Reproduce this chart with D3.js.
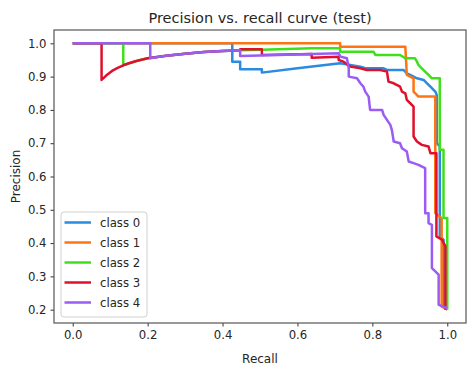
<!DOCTYPE html>
<html>
<head>
<meta charset="utf-8">
<script src="https://cdn.jsdelivr.net/npm/d3@7"></script>
<style>
  body { margin: 0; background: #fff; }
  text { font-family: "DejaVu Sans", sans-serif; fill: #262626; }
</style>
</head>
<body>
<svg id="chart" width="474" height="374"></svg>
<script>
var WIDTH = 474, HEIGHT = 374;
var MARGIN = {top: 30, right: 8, bottom: 51, left: 54};

var classNames = ["class 0", "class 1", "class 2", "class 3", "class 4"];
var classColors = ["#2a8be0", "#ff7410", "#3ee01a", "#e0102c", "#9a5cf4"];

var xTicks = [0.0, 0.2, 0.4, 0.6, 0.8, 1.0];
var yTicks = [0.2, 0.3, 0.4, 0.5, 0.6, 0.7, 0.8, 0.9, 1.0];

// [recall, precision] vertices
var class0 = [[0,1],[0.426,1],[0.426,0.945],[0.447,0.945],[0.447,0.922],[0.505,0.922],
  [0.505,0.912],[0.6,0.925],[0.714,0.94],[0.768,0.93],[0.781,0.925],[0.83,0.925],
  [0.839,0.92],[0.883,0.92],[0.892,0.91],[0.901,0.905],[0.919,0.895],[0.937,0.89],
  [0.946,0.88],[0.955,0.87],[0.968,0.855],[0.972,0.845],[0.972,0.7],[0.98,0.69],
  [0.98,0.42],[0.99,0.41],[0.99,0.21],[1.0,0.2]];
var class1 = [[0,1],[0.714,1],[0.714,0.99],[0.888,0.99],[0.892,0.905],[0.91,0.895],
  [0.91,0.855],[0.923,0.84],[0.968,0.84],[0.968,0.49],[0.985,0.475],[0.985,0.21],[1.0,0.2]];
var class2 = [[0,1],[0.135,1],[0.135,0.934],[0.17,0.947],[0.2,0.955],[0.25,0.963],
  [0.3,0.969],[0.35,0.974],[0.4,0.977],[0.447,0.979],[0.505,0.981],[0.638,0.985],
  [0.714,0.985],[0.714,0.975],[0.803,0.975],[0.808,0.965],[0.874,0.965],[0.888,0.955],
  [0.914,0.955],[0.919,0.945],[0.923,0.935],[0.932,0.925],[0.941,0.915],[0.95,0.905],
  [0.959,0.895],[0.98,0.895],[0.98,0.68],[0.99,0.68],[0.99,0.475],[1.0,0.475],[1.0,0.2]];
var class3 = [[0,1],[0.077,1],[0.077,0.89],[0.09,0.904],[0.105,0.917],[0.12,0.926],
  [0.135,0.934],[0.15,0.94],[0.17,0.947],[0.2,0.955],[0.25,0.963],[0.3,0.969],
  [0.35,0.974],[0.4,0.977],[0.447,0.979],[0.447,0.982],[0.505,0.982],[0.505,0.965],
  [0.638,0.968],[0.638,0.957],[0.71,0.96],[0.71,0.95],[0.723,0.945],[0.741,0.93],
  [0.768,0.925],[0.785,0.92],[0.821,0.92],[0.839,0.915],[0.843,0.885],[0.857,0.88],
  [0.874,0.87],[0.879,0.855],[0.888,0.85],[0.892,0.83],[0.901,0.82],[0.91,0.81],
  [0.91,0.72],[0.919,0.705],[0.932,0.695],[0.95,0.69],[0.955,0.67],[0.971,0.67],
  [0.971,0.42],[0.986,0.41],[0.995,0.39],[0.995,0.2]];
var class4 = [[0,1],[0.207,1],[0.207,0.955],[0.25,0.963],[0.3,0.969],[0.35,0.974],
  [0.4,0.977],[0.447,0.979],[0.447,0.962],[0.55,0.965],[0.638,0.968],[0.71,0.97],
  [0.715,0.96],[0.732,0.955],[0.737,0.925],[0.737,0.9],[0.759,0.895],[0.768,0.88],
  [0.776,0.87],[0.781,0.855],[0.79,0.84],[0.794,0.8],[0.826,0.8],[0.83,0.785],
  [0.839,0.77],[0.848,0.755],[0.852,0.74],[0.857,0.705],[0.874,0.7],[0.879,0.685],
  [0.892,0.675],[0.897,0.645],[0.91,0.64],[0.923,0.635],[0.941,0.625],[0.941,0.49],
  [0.95,0.49],[0.95,0.46],[0.959,0.455],[0.959,0.325],[0.968,0.315],[0.977,0.305],
  [0.977,0.215],[0.986,0.21],[1.0,0.205]];
var curves = [class0, class1, class2, class3, class4];

var svg = d3.select("#chart");
var plotW = WIDTH - MARGIN.left - MARGIN.right,
    plotH = HEIGHT - MARGIN.top - MARGIN.bottom;

var x = d3.scaleLinear().domain([-0.05, 1.05]).range([MARGIN.left, MARGIN.left + plotW]);
var y = d3.scaleLinear().domain([0.16, 1.04]).range([MARGIN.top + plotH, MARGIN.top]);

// curves
var line = d3.line()
  .x(function(d) { return x(d[0]); })
  .y(function(d) { return y(d[1]); });

svg.append("g").selectAll("path")
  .data(curves)
  .enter().append("path")
  .attr("d", line)
  .attr("fill", "none")
  .attr("stroke", function(d, i) { return classColors[i]; })
  .attr("stroke-width", 2.5)
  .attr("stroke-linejoin", "round");

// axes
var xAxis = svg.append("g")
  .attr("transform", "translate(0," + (MARGIN.top + plotH) + ")")
  .call(d3.axisBottom(x).tickValues(xTicks).tickFormat(d3.format(".1f"))
    .tickSize(3.5).tickPadding(4));
var yAxis = svg.append("g")
  .attr("transform", "translate(" + MARGIN.left + ",0)")
  .call(d3.axisLeft(y).tickValues(yTicks).tickFormat(d3.format(".1f"))
    .tickSize(3.5).tickPadding(4));
[xAxis, yAxis].forEach(function(a) {
  a.select(".domain").remove();
  a.selectAll(".tick line").attr("stroke", "#333");
  a.selectAll("text").style("font-size", "11.7px").attr("fill", "#262626");
});

// frame
svg.append("rect")
  .attr("x", MARGIN.left).attr("y", MARGIN.top)
  .attr("width", plotW).attr("height", plotH)
  .attr("fill", "none").attr("stroke", "#555").attr("stroke-width", 1.2);

// titles
svg.append("text")
  .attr("x", MARGIN.left + plotW / 2).attr("y", 23)
  .attr("text-anchor", "middle").style("font-size", "14.5px")
  .text("Precision vs. recall curve (test)");
svg.append("text")
  .attr("x", MARGIN.left + plotW / 2).attr("y", 363)
  .attr("text-anchor", "middle").style("font-size", "12px")
  .text("Recall");
svg.append("text")
  .attr("transform", "translate(20," + (MARGIN.top + plotH / 2) + ") rotate(-90)")
  .attr("text-anchor", "middle").style("font-size", "12px")
  .text("Precision");

// legend
var legend = svg.append("g").attr("transform", "translate(61,212)");
legend.append("rect")
  .attr("width", 86).attr("height", 105).attr("rx", 3)
  .attr("fill", "#fff").attr("fill-opacity", 0.8)
  .attr("stroke", "#d0d0d0");
var items = legend.selectAll("g.item")
  .data(classNames)
  .enter().append("g")
  .attr("class", "item")
  .attr("transform", function(d, i) { return "translate(0," + (10.5 + i * 20) + ")"; });
items.append("line")
  .attr("x1", 3.5).attr("x2", 30)
  .attr("stroke", function(d, i) { return classColors[i]; })
  .attr("stroke-width", 2.5);
items.append("text")
  .attr("x", 39).attr("y", 4.3)
  .style("font-size", "11.7px")
  .text(function(d) { return d; });
</script>
</body>
</html>
